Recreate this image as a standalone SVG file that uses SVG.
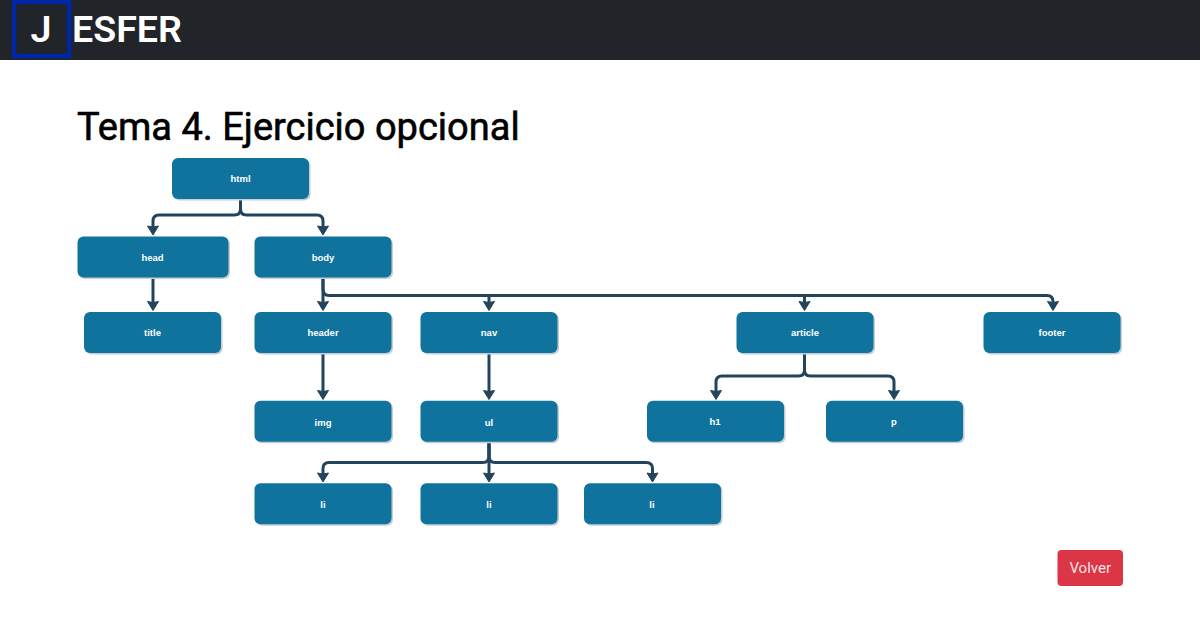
<svg xmlns="http://www.w3.org/2000/svg" width="1200" height="630" viewBox="0 0 1200 630">
<style>
.n{fill:#10739e}
.s{fill:#c3ced6}
.l{font-family:"Liberation Sans",Arial,sans-serif;font-size:9.5px;font-weight:700;fill:#fff;text-anchor:middle}
.c{fill:none;stroke:#23445d;stroke-width:3;stroke-linejoin:round}
.h{fill:#23445d;stroke:#23445d;stroke-width:1;stroke-linejoin:round}
.r{font-family:Roboto,sans-serif}
</style>
<defs>
<g id="box"><rect class="s" x="1.5" y="1.5" width="137" height="41" rx="6"/><rect class="n" width="137" height="41" rx="6"/></g>
<path id="a" class="h" d="M-5.500 -10.500L0 -9.500L5.500 -10.500L0 -1.500Z"/>
</defs>
<rect width="1200" height="630" fill="#fff"/>
<rect width="1200" height="60" fill="#212529"/>
<rect x="14" y="2" width="55" height="54" fill="none" stroke="#0026a6" stroke-width="4.5"/>
<text class="r" x="41" y="42" font-size="37.600" font-weight="600" fill="#fff" text-anchor="middle">J</text>
<text class="r" x="72" y="42" font-size="37.600" font-weight="600" fill="#fff">ESFER</text>
<text class="r" x="77" y="140" font-size="38" font-weight="400" fill="#000" stroke="#000" stroke-width=".6">Tema 4. Ejercicio opcional</text>
<g id="connectors">
<path class="c" d="M240.500 199V209Q240.500 215 234.500 215H159Q153 215 153 221V230"/>
<path class="c" d="M240.500 199V209Q240.500 215 246.500 215H317Q323 215 323 221V230"/>
<path class="c" d="M153 277V305"/>
<path class="c" d="M323 277V305"/>
<path class="c" d="M323 277V289Q323 295.500 329 295.500H1047Q1053 295.500 1053 301.500V305"/>
<path class="c" d="M489 295.500V305"/>
<path class="c" d="M804.500 295.500V305"/>
<path class="c" d="M323 353V394"/>
<path class="c" d="M489 353V394"/>
<path class="c" d="M804.500 353V370Q804.500 376 798.500 376H722Q716 376 716 382V394"/>
<path class="c" d="M804.500 353V370Q804.500 376 810.500 376H888Q894 376 894 382V394"/>
<path class="c" d="M489 442V456Q489 462.500 483 462.500H329Q323 462.500 323 468.500V477"/>
<path class="c" d="M489 442V477"/>
<path class="c" d="M489 442V456Q489 462.500 495 462.500H646Q652.500 462.500 652.500 468.500V477"/>
<use href="#a" x="153" y="236.500"/>
<use href="#a" x="323" y="236.500"/>
<use href="#a" x="153" y="312"/>
<use href="#a" x="323" y="312"/>
<use href="#a" x="489" y="312"/>
<use href="#a" x="804.500" y="312"/>
<use href="#a" x="1053" y="312"/>
<use href="#a" x="323" y="401"/>
<use href="#a" x="489" y="401"/>
<use href="#a" x="716" y="401"/>
<use href="#a" x="894" y="401"/>
<use href="#a" x="323" y="483.500"/>
<use href="#a" x="489" y="483.500"/>
<use href="#a" x="652.500" y="483.500"/>
</g>
<g id="n-html"><use href="#box" x="172" y="158"/><text class="l" x="240.500" y="182">html</text></g>
<g id="n-head"><rect class="s" x="79" y="238" width="151" height="41" rx="6"/><rect class="n" x="77.500" y="236.500" width="151" height="41" rx="6"/><text class="l" x="152.500" y="261">head</text></g>
<g id="n-body"><use href="#box" x="254.500" y="236.500"/><text class="l" x="323" y="261">body</text></g>
<g id="n-title"><use href="#box" x="84" y="312"/><text class="l" x="152.500" y="336">title</text></g>
<g id="n-header"><use href="#box" x="254.500" y="312"/><text class="l" x="323" y="336">header</text></g>
<g id="n-nav"><use href="#box" x="420.500" y="312"/><text class="l" x="489" y="336">nav</text></g>
<g id="n-article"><use href="#box" x="736.500" y="312"/><text class="l" x="805" y="336">article</text></g>
<g id="n-footer"><use href="#box" x="983.500" y="312"/><text class="l" x="1052" y="336">footer</text></g>
<g id="n-img"><use href="#box" x="254.500" y="400.700"/><text class="l" x="323" y="425.500">img</text></g>
<g id="n-ul"><use href="#box" x="420.500" y="400.700"/><text class="l" x="489" y="425.500">ul</text></g>
<g id="n-h1"><use href="#box" x="647" y="400.700"/><text class="l" x="715" y="425">h1</text></g>
<g id="n-p"><use href="#box" x="826" y="400.700"/><text class="l" x="894" y="425">p</text></g>
<g id="n-li1"><use href="#box" x="254.500" y="483.300"/><text class="l" x="323" y="508">li</text></g>
<g id="n-li2"><use href="#box" x="420.500" y="483.300"/><text class="l" x="489" y="508">li</text></g>
<g id="n-li3"><use href="#box" x="584" y="483.300"/><text class="l" x="652" y="508">li</text></g>
<g id="n-volver"><rect x="1057.500" y="550" width="65.500" height="36" rx="4" fill="#dc3545"/><text class="r" x="1090.200" y="572.500" font-size="15" fill="#fff" fill-opacity=".9" text-anchor="middle" font-weight="400">Volver</text></g>
</svg>
